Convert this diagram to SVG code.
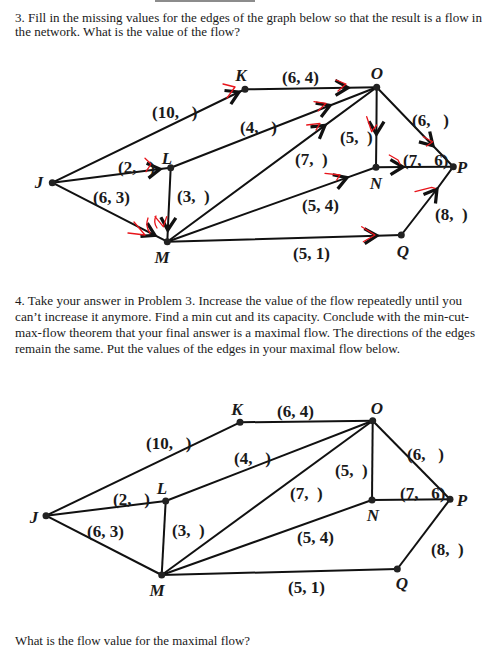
<svg xmlns="http://www.w3.org/2000/svg" width="490" height="669" viewBox="0 0 490 669">
<defs>
<style>
.para{font-family:"Liberation Serif","DejaVu Serif",serif;font-size:13px;fill:#1a1a1a}
.p4{font-size:12.5px}
.lbl{font-family:"Liberation Serif",serif;font-size:17px;font-weight:bold;fill:#1a1a1a;white-space:pre}
.nl{font-family:"Liberation Serif",serif;font-size:17px;font-weight:bold;font-style:italic;fill:#1a1a1a;text-anchor:middle}
.edge{stroke:#111;stroke-width:2;fill:none}
.dot{fill:#222}
.red{stroke:#e8141a;stroke-width:1.3;fill:none;stroke-linecap:round;stroke-linejoin:round}
</style>
<marker id="chev" markerUnits="userSpaceOnUse" markerWidth="20" markerHeight="20" refX="0" refY="0" viewBox="-12 -8 14 16" orient="auto" overflow="visible">
<path d="M-10,-6 L0,0 L-10,6" fill="none" stroke="#111" stroke-width="2.6" stroke-linejoin="miter"/>
</marker>
</defs>
<line x1="155" y1="1" x2="255" y2="1" stroke="#666" stroke-width="1.5"/>
<text class="para" x="15" y="22" textLength="467" lengthAdjust="spacingAndGlyphs">3. Fill in the missing values for the edges of the graph below so that the result is a flow in</text>
<text class="para" x="15" y="36" textLength="225" lengthAdjust="spacingAndGlyphs">the network. What is the value of the flow?</text>

<g id="top-connectors">
<path class="edge" d="M52.3,182.7 L239,92 L245,89.3" marker-mid="url(#chev)"/>
<path class="edge" d="M245,89.3 L348,87.7 L376.7,87.3" marker-mid="url(#chev)"/>
<path class="edge" d="M52.3,182.7 L160,169.1 L170.7,167.7" marker-mid="url(#chev)"/>
<path class="edge" d="M52.3,182.7 L155,235.4 L167.3,241.7" marker-mid="url(#chev)"/>
<path class="edge" d="M170.7,167.7 L330,105.5 L376.7,87.3" marker-mid="url(#chev)"/>
<path class="edge" d="M170.7,167.7 L167.8,230 L167.3,241.7" marker-mid="url(#chev)"/>
<path class="edge" d="M167.3,241.7 L325,125.4 L376.7,87.3" marker-mid="url(#chev)"/>
<path class="edge" d="M167.3,241.7 L347,177.6 L376,167.3" marker-mid="url(#chev)"/>
<path class="edge" d="M167.3,241.7 L377,235.7 L401.3,235" marker-mid="url(#chev)"/>
<path class="edge" d="M376.7,87.3 L376.4,134 L376,167.3" marker-mid="url(#chev)"/>
<path class="edge" d="M376.7,87.3 L433,145.7 L453.3,166.7" marker-mid="url(#chev)"/>
<path class="edge" d="M376,167.3 L403,167 L453.3,166.7" marker-mid="url(#chev)"/>
<path class="edge" d="M401.3,235 L437,189 L453.3,166.7" marker-mid="url(#chev)"/>
</g>
<g id="top-red-marks">
<polyline class="red" points="223,84 235,87 227,98"/>
<polyline class="red" points="336,80 346,84 338,91"/>
<polyline class="red" points="314,101.7 326,103.3 318.3,110.7"/>
<polyline class="red" points="306.7,125 320,123.3 316,130"/>
<polyline class="red" points="366.7,116.7 371.7,131.7 376.7,125"/>
<polyline class="red" points="423.3,136.7 432.7,141.7 426.7,146"/>
<polyline class="red" points="325,173.3 340,175 336.7,180"/>
<polyline class="red" points="389.3,155 398,160 400,164"/>
<polyline class="red" points="361.7,226.7 375,235 363.3,241.7"/>
<polyline class="red" points="415,191.7 431.7,187.3 435,188.3"/>
<polyline class="red" points="145,158.3 151,164 146,171.7"/>
<polyline class="red" points="155,216.7 163.3,226.7 166.7,216.7"/>
<polyline class="red" points="128,233 145,235 134,222"/>
<path class="red" d="M148,218 Q145,226 150,233"/>
<path class="red" d="M156,216 Q153,222 157,228"/>
</g>
<g id="top-nodes">
<g id="tK"><circle class="dot" cx="245" cy="89.3" r="3.5"/><text class="nl" x="241" y="81">K</text></g>
<g id="tJ"><circle class="dot" cx="52.3" cy="182.7" r="3.5"/><text class="nl" x="39" y="188">J</text></g>
<g id="tL"><circle class="dot" cx="170.7" cy="167.7" r="3.5"/><text class="nl" x="167" y="164">L</text></g>
<g id="tM"><circle class="dot" cx="167.3" cy="241.7" r="3.5"/><text class="nl" x="162" y="263">M</text></g>
<g id="tO"><circle class="dot" cx="376.7" cy="87.3" r="3.5"/><text class="nl" x="377" y="79">O</text></g>
<g id="tN"><circle class="dot" cx="376" cy="167.3" r="3.5"/><text class="nl" x="376" y="189">N</text></g>
<g id="tP"><circle class="dot" cx="453.3" cy="166.7" r="3.5"/><text class="nl" x="462" y="173">P</text></g>
<g id="tQ"><circle class="dot" cx="401.3" cy="235" r="3.5"/><text class="nl" x="403" y="257">Q</text></g>
</g>
<g id="top-labels">
<text class="lbl" x="152" y="118">(10,   )</text>
<text class="lbl" x="240" y="133">(4,   )</text>
<text class="lbl" x="118" y="173">(2,   )</text>
<text class="lbl" x="93" y="203">(6, 3)</text>
<text class="lbl" x="177" y="202">(3,  )</text>
<text class="lbl" x="282" y="83">(6, 4)</text>
<text class="lbl" x="340" y="143">(5,  )</text>
<text class="lbl" x="412" y="126">(6,   )</text>
<text class="lbl" x="295" y="165">(7,  )</text>
<text class="lbl" x="403" y="166">(7,   6)</text>
<text class="lbl" x="302" y="211">(5, 4)</text>
<text class="lbl" x="435" y="220">(8,  )</text>
<text class="lbl" x="293" y="259">(5, 1)</text>
</g>

<text class="para p4" x="15" y="305" textLength="447" lengthAdjust="spacingAndGlyphs">4. Take your answer in Problem 3. Increase the value of the flow repeatedly until you</text>
<text class="para p4" x="15" y="321" textLength="454" lengthAdjust="spacingAndGlyphs">can’t increase it anymore. Find a min cut and its capacity. Conclude with the min-cut-</text>
<text class="para p4" x="15" y="337" textLength="460" lengthAdjust="spacingAndGlyphs">max-flow theorem that your final answer is a maximal flow. The directions of the edges</text>
<text class="para p4" x="15" y="353" textLength="385" lengthAdjust="spacingAndGlyphs">remain the same. Put the values of the edges in your maximal flow below.</text>

<g id="bottom-connectors">
<line class="edge" x1="46" y1="515.7" x2="240" y2="422.3"/>
<line class="edge" x1="240" y1="422.3" x2="372.7" y2="420.7"/>
<line class="edge" x1="46" y1="515.7" x2="165.7" y2="501"/>
<line class="edge" x1="46" y1="515.7" x2="161.7" y2="575"/>
<line class="edge" x1="165.7" y1="501" x2="372.7" y2="420.7"/>
<line class="edge" x1="165.7" y1="501" x2="161.7" y2="575"/>
<line class="edge" x1="161.7" y1="575" x2="372.7" y2="420.7"/>
<line class="edge" x1="161.7" y1="575" x2="372" y2="500"/>
<line class="edge" x1="161.7" y1="575" x2="397.3" y2="569"/>
<line class="edge" x1="372.7" y1="420.7" x2="372" y2="500"/>
<line class="edge" x1="372.7" y1="420.7" x2="450" y2="499.3"/>
<line class="edge" x1="372" y1="500" x2="450" y2="499.3"/>
<line class="edge" x1="397.3" y1="569" x2="450" y2="499.3"/>
</g>
<g id="bottom-nodes">
<g id="bK"><circle class="dot" cx="240" cy="422.3" r="3.5"/><text class="nl" x="237" y="415">K</text></g>
<g id="bJ"><circle class="dot" cx="46" cy="515.7" r="3.5"/><text class="nl" x="34" y="523">J</text></g>
<g id="bL"><circle class="dot" cx="165.7" cy="501" r="3.5"/><text class="nl" x="162" y="494">L</text></g>
<g id="bM"><circle class="dot" cx="161.7" cy="575" r="3.5"/><text class="nl" x="157" y="596">M</text></g>
<g id="bO"><circle class="dot" cx="372.7" cy="420.7" r="3.5"/><text class="nl" x="377" y="414">O</text></g>
<g id="bN"><circle class="dot" cx="372" cy="500" r="3.5"/><text class="nl" x="373" y="521">N</text></g>
<g id="bP"><circle class="dot" cx="450" cy="499.3" r="3.5"/><text class="nl" x="462" y="506">P</text></g>
<g id="bQ"><circle class="dot" cx="397.3" cy="569" r="3.5"/><text class="nl" x="402" y="589">Q</text></g>
</g>
<g id="bottom-labels">
<text class="lbl" x="146" y="449">(10,   )</text>
<text class="lbl" x="234" y="464">(4,   )</text>
<text class="lbl" x="113" y="505">(2,   )</text>
<text class="lbl" x="87" y="537">(6, 3)</text>
<text class="lbl" x="172" y="536">(3,  )</text>
<text class="lbl" x="277" y="417">(6, 4)</text>
<text class="lbl" x="335" y="476">(5,  )</text>
<text class="lbl" x="407" y="460">(6,   )</text>
<text class="lbl" x="290" y="499">(7,  )</text>
<text class="lbl" x="400" y="499">(7,   6)</text>
<text class="lbl" x="297" y="543">(5, 4)</text>
<text class="lbl" x="431" y="555">(8,  )</text>
<text class="lbl" x="288" y="593">(5, 1)</text>
</g>

<text class="para" x="15" y="645" textLength="235" lengthAdjust="spacingAndGlyphs">What is the flow value for the maximal flow?</text>
</svg>
